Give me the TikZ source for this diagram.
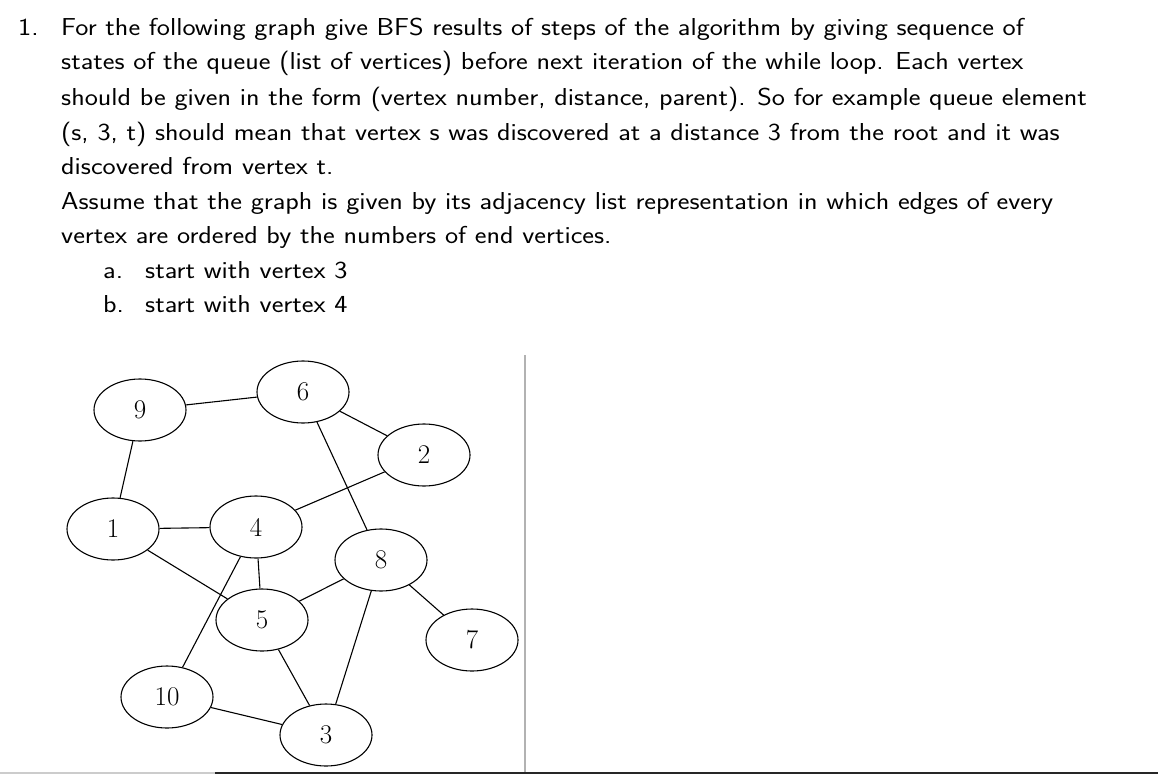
\documentclass[tikz,border=0pt]{standalone}
\usepackage{graphicx}
\usetikzlibrary{shapes.geometric}
\newcommand{\wtxt}[1]{\scalebox{1.14}[1]{#1}}
\begin{document}
\begin{tikzpicture}[x=1pt,y=-1pt,
  txt/.style={anchor=base west,inner sep=0pt,font=\fontsize{24.5}{28}\sffamily},
  vtx/.style={draw,ellipse,minimum width=92pt,minimum height=62pt,inner sep=0pt,line width=1.1pt,font=\fontsize{27}{30}\selectfont},
  edge/.style={line width=1.1pt}]
\useasboundingbox (0,0) rectangle (1158,776);
\node[txt] (n1) at (18,36) {\wtxt{1.}};
\node[txt] (l1) at (61,36) {\wtxt{For the following graph give BFS results of steps of the algorithm by giving sequence of}};
\node[txt] (l2) at (61,70) {\wtxt{states of the queue (list of vertices) before next iteration of the while loop. Each vertex}};
\node[txt] (l3) at (61,105) {\wtxt{should be given in the form (vertex number, distance, parent). So for example queue element}};
\node[txt] (l4) at (61,140) {\wtxt{(s, 3, t) should mean that vertex s was discovered at a distance 3 from the root and it was}};
\node[txt] (l5) at (61,174) {\wtxt{discovered from vertex t.}};
\node[txt] (l6) at (61,209) {\wtxt{Assume that the graph is given by its adjacency list representation in which edges of every}};
\node[txt] (l7) at (61,243) {\wtxt{vertex are ordered by the numbers of end vertices.}};
\node[txt] (la) at (103,278) {\wtxt{a.}};
\node[txt] (lat) at (145,278) {\wtxt{start with vertex 3}};
\node[txt] (lb) at (103,312) {\wtxt{b.}};
\node[txt] (lbt) at (145,312) {\wtxt{start with vertex 4}};
\node[vtx] (v9) at (140,410) {9};
\node[vtx] (v6) at (303,392) {6};
\node[vtx] (v2) at (424,455) {2};
\node[vtx] (v1) at (113,529) {1};
\node[vtx] (v4) at (256,527) {4};
\node[vtx] (v8) at (381,560) {8};
\node[vtx] (v5) at (262,620) {5};
\node[vtx] (v7) at (472,640) {7};
\node[vtx] (v10) at (167,697) {10};
\node[vtx] (v3) at (326,735) {3};
\draw[edge] (v9)--(v6) (v9)--(v1) (v6)--(v2) (v6)--(v8) (v2)--(v4)
  (v1)--(v4) (v1)--(v5) (v4)--(v5) (v4)--(v10) (v5)--(v8) (v8)--(v7)
  (v8)--(v3) (v5)--(v3) (v10)--(v3);
\coordinate (vt) at (525,355); \coordinate (vb) at (525,772);
\draw[gray!60,line width=1.5pt] (vt)--(vb);
\coordinate (g0) at (0,773); \coordinate (g1) at (215,773); \coordinate (g2) at (1158,773);
\draw[gray!40,line width=1.5pt] (g0)--(g1);
\draw[black!85,line width=2pt] (g1)--(g2);
\end{tikzpicture}
\end{document}
